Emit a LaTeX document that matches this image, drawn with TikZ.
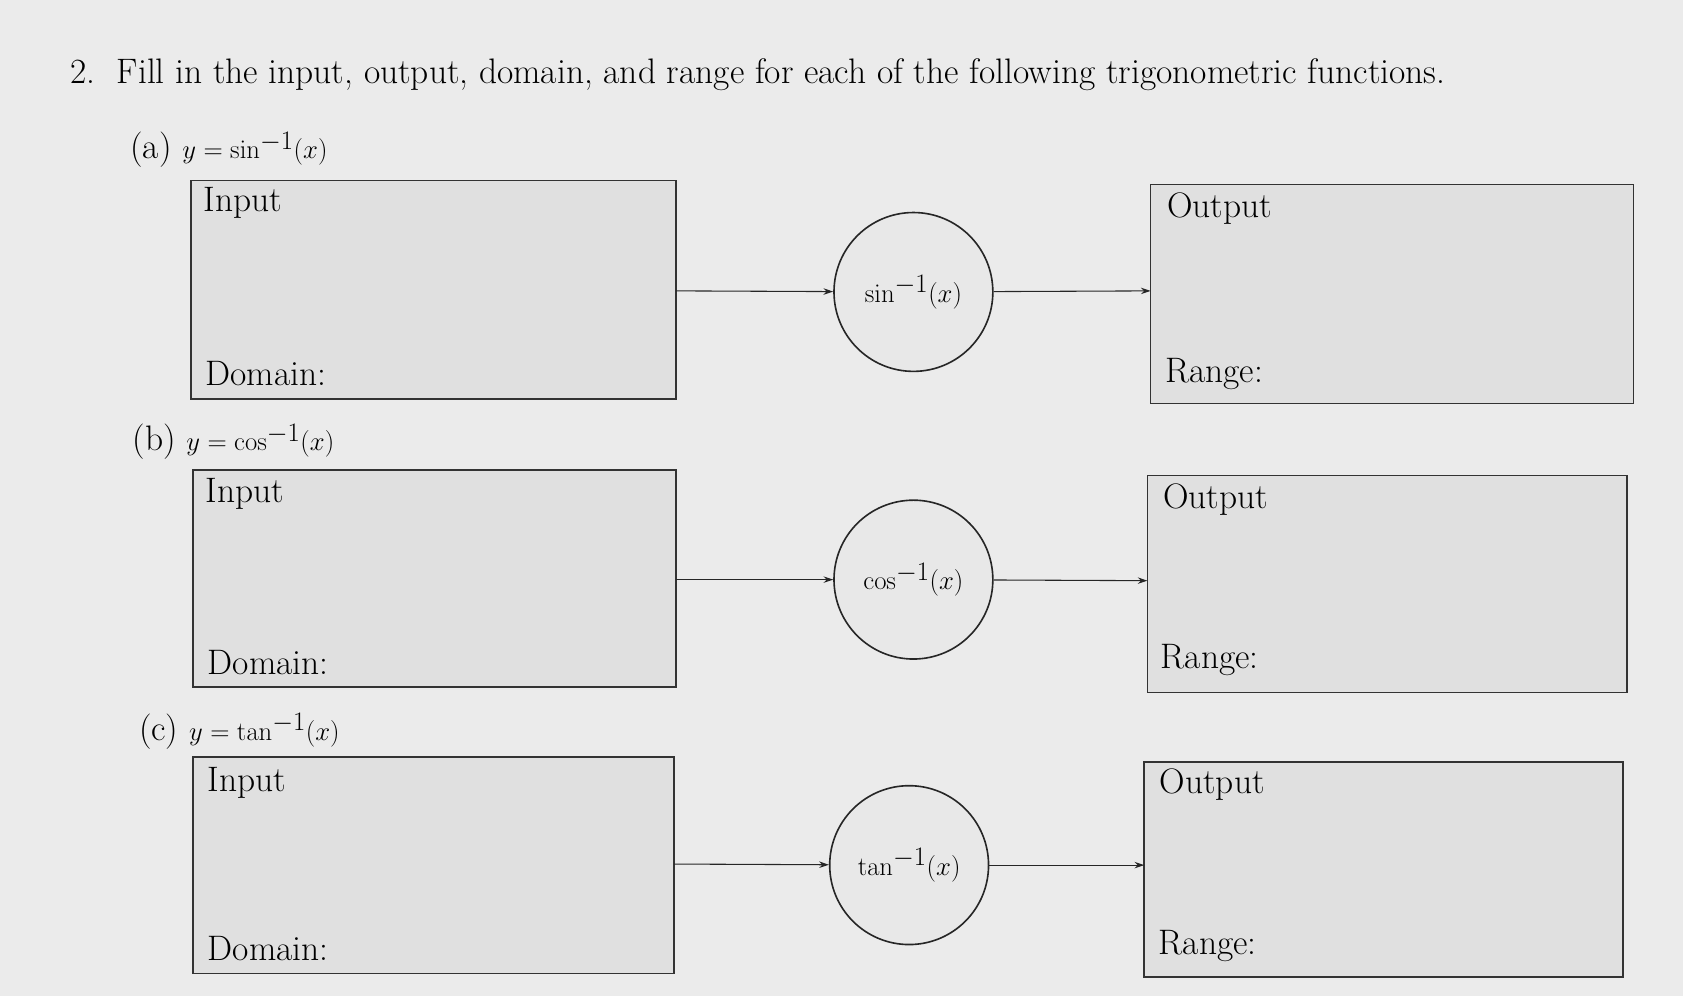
\documentclass[tikz,border=0pt]{standalone}
\usetikzlibrary{arrows.meta}
\begin{document}
\begin{tikzpicture}[x=1pt,y=-1pt,
  box/.style={draw=black!80,fill=black!12,line width=1.5pt},
  fn/.style={draw=black!85,circle,minimum size=148pt,line width=1.5pt,fill=black!9,font=\fontsize{33}{36}\selectfont,inner sep=0},
  lab/.style={anchor=base west,font=\fontsize{33}{36}\selectfont},
  conn/.style={-{Stealth[length=9pt,width=6pt]},line width=1pt,black!85}]
\fill[black!8] (0,0) rectangle (1568,928);
\useasboundingbox (0,0) rectangle (1568,928);
\node[lab] (t) at (62,78) {2.\ \ Fill in the input, output, domain, and range for each of the following trigonometric functions.};
% (a)
\node[lab] (la) at (118,148) {(a)\ $y=\sin^{-1}(x)$};
\draw[box] (178,168) rectangle (630,372);
\draw[box] (1072,172) rectangle (1522,376);
\node[lab] (ia) at (186,197) {Input};
\node[lab] (da) at (188,359) {Domain:};
\node[lab] (oa) at (1084,203) {Output};
\node[lab] (ra) at (1082,356) {Range:};
\coordinate (ai) at (630,271);
\coordinate (ao) at (1072,271);
\node[fn] (ca) at (851,272) {$\sin^{-1}(x)$};
\draw[conn] (ai) -- (ca);
\draw[conn] (ca) -- (ao);
% (b)
\node[lab] (lb) at (120,420) {(b)\ $y=\cos^{-1}(x)$};
\draw[box] (180,438) rectangle (630,640);
\draw[box] (1069,443) rectangle (1516,645);
\node[lab] (ib) at (188,468) {Input};
\node[lab] (db) at (190,628) {Domain:};
\node[lab] (ob) at (1080,474) {Output};
\node[lab] (rb) at (1078,623) {Range:};
\coordinate (bi) at (630,540);
\coordinate (bo) at (1069,541);
\node[fn] (cb) at (851,540) {$\cos^{-1}(x)$};
\draw[conn] (bi) -- (cb);
\draw[conn] (cb) -- (bo);
% (c)
\node[lab] (lc) at (126,690) {(c)\ $y=\tan^{-1}(x)$};
\draw[box] (180,705) rectangle (628,907);
\draw[box] (1066,710) rectangle (1512,910);
\node[lab] (ic) at (190,737) {Input};
\node[lab] (dc) at (190,895) {Domain:};
\node[lab] (oc) at (1077,739) {Output};
\node[lab] (rc) at (1076,889) {Range:};
\coordinate (ci) at (628,805);
\coordinate (co) at (1066,806);
\node[fn] (cc) at (847,806) {$\tan^{-1}(x)$};
\draw[conn] (ci) -- (cc);
\draw[conn] (cc) -- (co);
\end{tikzpicture}
\end{document}
